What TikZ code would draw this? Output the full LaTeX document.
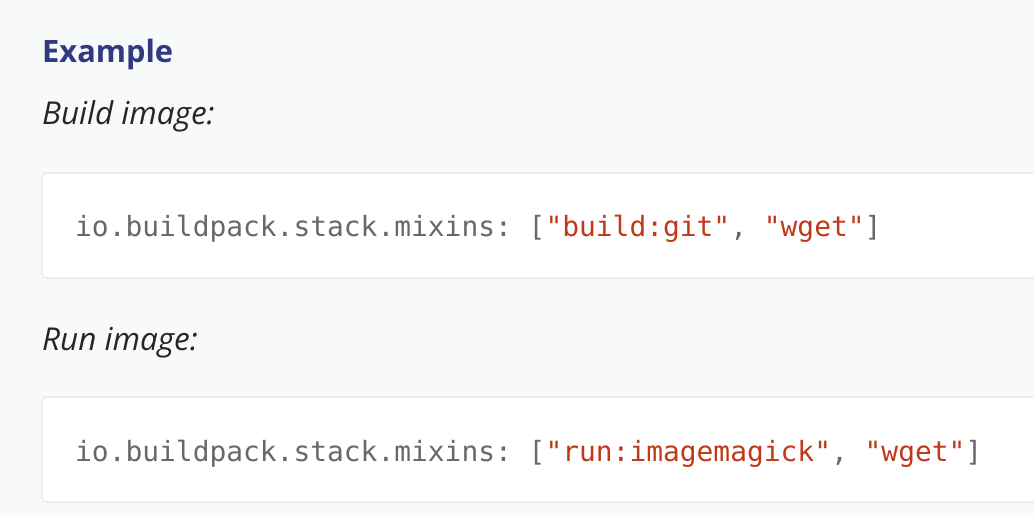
\documentclass[tikz,border=0pt]{standalone}
\usepackage{fontspec}
\setmainfont{Open Sans}
\setmonofont{DejaVu Sans Mono}
\definecolor{bg}{HTML}{F8F9FB}
\definecolor{head}{HTML}{2F3A80}
\definecolor{codegray}{HTML}{6D6668}
\definecolor{str}{HTML}{C0391B}
\definecolor{boxline}{HTML}{E6E8EC}
\tikzset{
  codebox/.style={draw=boxline, line width=1.2pt, fill=white, rounded corners=4pt},
  txt/.style={anchor=base west, inner sep=0pt},
  lbl/.style={txt, font=\fontsize{31.5}{36}\selectfont\itshape, text=black!85},
  codetxt/.style={txt, font=\fontsize{27.9}{30}\selectfont\ttfamily, text=codegray}
}
\begin{document}
\begin{tikzpicture}[x=1pt,y=-1pt]
\fill[bg] (0,0) rectangle (1034,516);
\useasboundingbox (0,0) rectangle (1034,516);
\node[txt, font=\fontsize{30.8}{36}\selectfont\bfseries, text=head] (h) at (42,63) {Example};
\node[lbl] (b) at (42,125) {Build image:};
\draw[codebox] (42,173) rectangle (1060,278);
\node[codetxt] (c1) at (75,236) {io.buildpack.stack.mixins: [\textcolor{str}{"build:git"}, \textcolor{str}{"wget"}]};
\node[lbl] (r) at (42,350) {Run image:};
\draw[codebox] (42,397) rectangle (1060,502);
\node[codetxt] (c2) at (75,461) {io.buildpack.stack.mixins: [\textcolor{str}{"run:imagemagick"}, \textcolor{str}{"wget"}]};
\end{tikzpicture}
\end{document}
